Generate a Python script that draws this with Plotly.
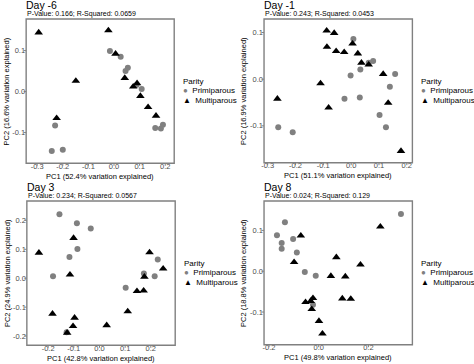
import plotly.graph_objects as go

# ---------------- data ----------------
titles = ["Day -6", "Day -1", "Day 3", "Day 8"]
subtitles = ["P-Value: 0.166; R-Squared: 0.0659",
             "P-Value: 0.243; R-Squared: 0.0453",
             "P-Value: 0.234; R-Squared: 0.0567",
             "P-Value: 0.024; R-Squared: 0.129"]
x_titles = ["PC1 (52.4% variation explained)", "PC1 (51.1% variation explained)",
            "PC1 (42.8% variation explained)", "PC1 (49.8% variation explained)"]
y_titles = ["PC2 (16.6% variation explained)", "PC2 (16.9% variation explained)",
            "PC2 (24.9% variation explained)", "PC2 (18.8% variation explained)"]
legend_title = "Parity"
groups = ["Primiparous", "Multiparous"]

# Day -6
d1_prim_x = [-0.016, 0.026, 0.045, 0.054, 0.088, 0.108, 0.161, 0.183, 0.191, -0.230, -0.243, -0.200]
d1_prim_y = [0.099, 0.085, 0.050, 0.058, 0.016, 0.0065, -0.089, -0.090, -0.081, -0.083, -0.145, -0.142]
d1_mult_x = [-0.294, -0.022, 0.006, -0.149, 0.042, 0.090, 0.075, 0.103, 0.133, 0.164, -0.224]
d1_mult_y = [0.144, 0.149, 0.092, 0.026, 0.033, 0.020, 0.012, -0.011, -0.038, -0.059, -0.065]

# Day -1
d2_prim_x = [0.008, 0.063, 0.079, 0.033, -0.002, 0.158, 0.139, -0.024, 0.031, 0.102, 0.125, -0.262, -0.210]
d2_prim_y = [0.086, 0.035, 0.039, 0.021, 0.008, 0.011, -0.016, -0.042, -0.039, -0.077, -0.103, -0.103, -0.114]
d2_mult_x = [-0.088, -0.061, -0.087, -0.054, -0.025, 0.005, 0.024, 0.037, 0.063, 0.115, -0.110, 0.133, -0.081, -0.265, 0.179]
d2_mult_y = [0.104, 0.099, 0.069, 0.060, 0.058, 0.076, 0.055, 0.035, 0.031, 0.011, -0.009, -0.051, -0.061, -0.042, -0.154]

# Day 3
d3_prim_x = [-0.156, -0.088, -0.034, -0.086, -0.117, -0.181, 0.227, 0.173, 0.215, 0.102, -0.128]
d3_prim_y = [0.221, 0.190, 0.172, 0.101, 0.073, 0.007, 0.065, 0.016, 0.007, -0.033, -0.187]
d3_mult_x = [-0.101, -0.236, -0.115, 0.195, 0.248, 0.175, 0.146, 0.172, 0.110, -0.183, -0.097, -0.103, -0.126, 0.028]
d3_mult_y = [0.139, 0.088, 0.012, 0.089, 0.033, 0.005, -0.045, -0.043, -0.115, -0.123, -0.137, -0.166, -0.189, -0.163]

# Day 8
d4_prim_x = [0.331, -0.136, -0.168, -0.149, -0.149, -0.103, -0.088, -0.056, -0.012, -0.023]
d4_prim_y = [0.140, 0.120, 0.088, 0.069, 0.055, 0.079, 0.046, -0.002, -0.011, -0.082]
d4_mult_x = [-0.072, -0.099, 0.071, 0.168, 0.049, 0.107, 0.095, 0.129, -0.053, -0.032, -0.023, -0.028, 0.001, 0.015, 0.248]
d4_mult_y = [0.087, 0.022, 0.034, 0.016, -0.012, -0.013, -0.067, -0.068, -0.076, -0.073, -0.066, -0.093, -0.122, -0.153, 0.109]

x_ticks = [[-0.3, -0.2, -0.1, 0.0, 0.1, 0.2], [-0.3, -0.2, -0.1, 0.0, 0.1, 0.2],
           [-0.2, -0.1, 0.0, 0.1, 0.2], [-0.2, 0.0, 0.2]]
y_ticks = [[-0.1, 0.0, 0.1], [-0.1, 0.0, 0.1], [-0.2, -0.1, 0.0, 0.1, 0.2], [-0.1, 0.0, 0.1]]
x_ranges = [[-0.343, 0.235], [-0.313, 0.220], [-0.283, 0.295], [-0.220, 0.377]]
y_ranges = [[-0.175, 0.177], [-0.179, 0.129], [-0.232, 0.267], [-0.180, 0.172]]

prim = [(d1_prim_x, d1_prim_y), (d2_prim_x, d2_prim_y), (d3_prim_x, d3_prim_y), (d4_prim_x, d4_prim_y)]
mult = [(d1_mult_x, d1_mult_y), (d2_mult_x, d2_mult_y), (d3_mult_x, d3_mult_y), (d4_mult_x, d4_mult_y)]

# ---------------- layout geometry ----------------
W, H = 474, 364
boxes = [(23.3, 172.3, 19, 163.3), (262.7, 412, 19, 162.7),
         (24, 173.3, 201, 345.3), (262.7, 412, 201, 344.7)]

fig = go.Figure()
FONT = "Liberation Sans, Arial, sans-serif"
TICKC = "#4d4d4d"
GREY = "#808080"
FRAME = "#808080"

layout = dict(width=W, height=H, margin=dict(l=0, r=0, t=0, b=0),
              paper_bgcolor="white", plot_bgcolor="white", showlegend=False,
              font=dict(family=FONT, size=8, color="black"), annotations=[], shapes=[])

def ann(text, x, y, size, xanchor="left", angle=0, color="black"):
    layout["annotations"].append(dict(text=text, x=x / W, y=1 - y / H, xref="paper", yref="paper",
                                      xanchor=xanchor, yanchor="middle", textangle=angle,
                                      showarrow=False, font=dict(size=size, color=color),
                                      borderpad=0))

for i in range(4):
    x0, x1, y0, y1 = boxes[i]
    pw, ph = x1 - x0, y1 - y0
    xa = "xaxis" if i == 0 else f"xaxis{i+1}"
    ya = "yaxis" if i == 0 else f"yaxis{i+1}"
    xr = "x" if i == 0 else f"x{i+1}"
    yr = "y" if i == 0 else f"y{i+1}"
    fig.add_trace(go.Scatter(x=prim[i][0], y=prim[i][1], mode="markers", name=groups[0],
                             marker=dict(symbol="circle", size=6, color=GREY),
                             xaxis=xr, yaxis=yr))
    fig.add_trace(go.Scatter(x=mult[i][0], y=mult[i][1], mode="markers", name=groups[1],
                             marker=dict(symbol="triangle-up", size=7.5, color="black"),
                             xaxis=xr, yaxis=yr))
    axcommon = dict(showgrid=False, zeroline=False, showline=False, ticks="",
                    tickfont=dict(size=7.5, color=TICKC))
    layout[xa] = dict(domain=[x0 / W, x1 / W], range=x_ranges[i], tickvals=x_ticks[i],
                      ticktext=[f"{v:.1f}" for v in x_ticks[i]], anchor=yr,
                      ticklabelstandoff=-3, **axcommon)
    layout[ya] = dict(domain=[1 - y1 / H, 1 - y0 / H], range=y_ranges[i], tickvals=y_ticks[i],
                      ticktext=[f"{v:.1f}" for v in y_ticks[i]], anchor=xr,
                      ticklabelstandoff=0, **axcommon)
    # panel frame
    layout["shapes"].append(dict(type="rect", xref=f"{xr} domain", yref=f"{yr} domain",
                                 x0=0, x1=1, y0=0, y1=1, line=dict(color=FRAME, width=1.4),
                                 fillcolor="rgba(0,0,0,0)", layer="above"))
    # tick marks
    for v in x_ticks[i]:
        layout["shapes"].append(dict(type="line", xref=xr, yref=f"{yr} domain", x0=v, x1=v,
                                     y0=0, y1=-2.5 / ph, line=dict(color=FRAME, width=1)))
    for v in y_ticks[i]:
        layout["shapes"].append(dict(type="line", xref=f"{xr} domain", yref=yr, y0=v, y1=v,
                                     x0=0, x1=-2.5 / pw, line=dict(color=FRAME, width=1)))
    # titles
    ann(titles[i], x0 - 1, y0 - 14, 10.5)
    ann(subtitles[i], x0, y0 - 4.8, 7)
    ann(x_titles[i], (x0 + x1) / 2, y1 + 13, 7.5, xanchor="center")
    ann(y_titles[i], x0 - 20, (y0 + y1) / 2, 7.5, xanchor="center", angle=-90)
    # legend (text-based)
    lx = x1 + 8
    ann(legend_title, lx, y0 + 62, 8)
    ann(f'<span style="color:{GREY}">●</span>  ' + groups[0], lx, y0 + 71.5, 8)
    ann('▲  ' + groups[1], lx - 0.5, y0 + 81, 8)

fig.update_layout(**layout)
fig.write_html("out.html", config={"displayModeBar": False, "staticPlot": True},
               post_script="document.body.style.margin='0';document.body.style.overflow='hidden';")
